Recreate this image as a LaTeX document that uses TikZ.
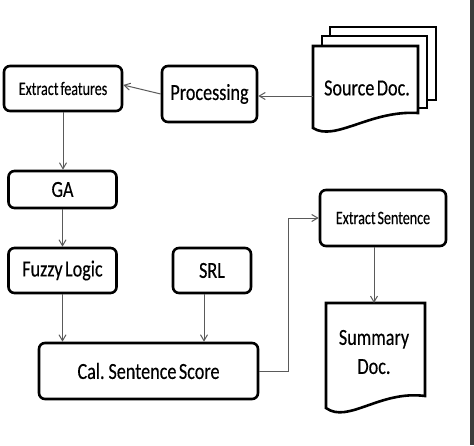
\documentclass[tikz,border=0pt]{standalone}
\usepackage{fontspec}
\setmainfont{Carlito}
\newfontfamily\bigfont{Carlito}[FakeStretch=0.79,FakeBold=0.3,WordSpace=0.6]
\newfontfamily\smallfont{Carlito}[FakeStretch=0.74,FakeBold=0.25,WordSpace=0.6]
\usetikzlibrary{arrows.meta,calc}
\definecolor{linegray}{RGB}{90,90,90}
\definecolor{bordergray}{RGB}{60,60,60}
\begin{document}
\begin{tikzpicture}[x=1pt,y=-1pt,
  box/.style={draw=black, line width=2.6pt, rounded corners=6pt, fill=white, inner sep=0pt, align=center},
  bigtxt/.style={font=\bigfont\fontsize{23}{29}\selectfont},
  smalltxt/.style={font=\smallfont\fontsize{19}{23}\selectfont},
  arr/.style={draw=linegray, line width=1pt, -{Straight Barb[length=6pt,width=7pt]}},
  doc/.style={draw=black, line width=2.6pt, fill=white, line join=miter}]
\useasboundingbox (0,0) rectangle (474,445);
\fill[white] (0,0) rectangle (474,445);
\fill[bordergray] (470,0) rectangle (474,445);

% boxes
\node[box,smalltxt,minimum width=118pt,minimum height=45pt] (ef) at (63,88.5) {Extract features};
\node[box,bigtxt,minimum width=95pt,minimum height=56pt] (proc) at (209.5,94) {Processing};
\node[box,bigtxt,minimum width=108pt,minimum height=37pt] (ga) at (62.5,189.5) {GA};
\node[box,bigtxt,minimum width=108pt,minimum height=45pt] (fl) at (62.5,270.5) {Fuzzy Logic};
\node[box,bigtxt,minimum width=78pt,minimum height=45pt] (srl) at (212,270.5) {SRL};
\node[box,bigtxt,minimum width=219pt,minimum height=56pt] (cal) at (148.5,371) {Cal. Sentence Score};
\node[box,smalltxt,minimum width=126pt,minimum height=56pt] (es) at (383,218) {Extract Sentence};

% source documents (stack)
\draw[doc] (330,27) rectangle (436,100);
\draw[doc] (322,36) rectangle (427,108);
\draw[doc] (313,46) -- (418,46) -- (418,113) .. controls (370,110) and (335,142) .. (313,128) -- cycle;
\node[bigtxt] (src) at (367,88) {Source Doc.};

% summary document
\draw[doc] (326,303) -- (425,303) -- (425,396) .. controls (380,390) and (348,424) .. (326,408) -- cycle;
\node[bigtxt,align=center] (sum) at (374,352) {Summary\\Doc.};

% connectors
\coordinate (srcL) at (313,96);
\coordinate (srlx) at (204,0);
\coordinate (bend) at (288,0);
\coordinate (sumtop) at (374,303);
\draw[arr] (srcL) -- (srcL -| proc.east);
\draw[arr] (proc.west) -- ($(ef.east)+(0,-3.5)$);
\draw[arr] (ef.south) -- (ef.south |- ga.north);
\draw[arr] (ga.south) -- (fl.north);
\draw[arr] (fl.south) -- (fl.south |- cal.north);
\draw[arr] (srl.south -| srlx) -- (srlx |- cal.north);
\draw[arr] (cal.east) -- (cal.east -| bend) -- (bend |- es.west) -- (es.west);
\draw[arr] (es.south -| sumtop) -- (sumtop);
\end{tikzpicture}
\end{document}
